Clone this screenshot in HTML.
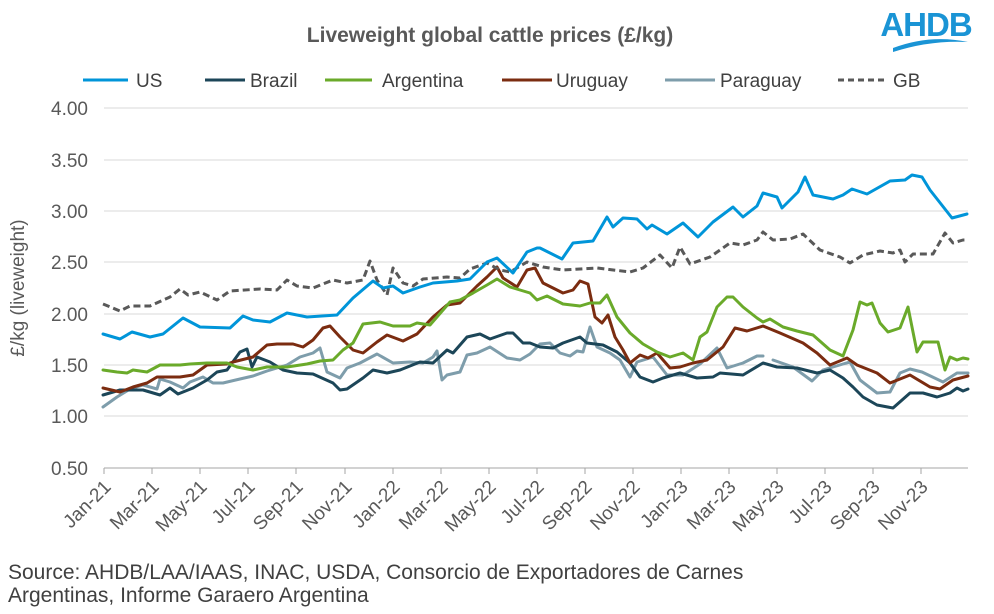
<!DOCTYPE html>
<html><head><meta charset="utf-8"><style>
body{margin:0;background:#fff;width:994px;height:609px;overflow:hidden;font-family:"Liberation Sans",Arial,sans-serif;}
</style></head><body>
<svg width="994" height="609" xmlns="http://www.w3.org/2000/svg" font-family="Liberation Sans, Arial, sans-serif">
<text x="490" y="42" text-anchor="middle" font-size="21" font-weight="bold" fill="#595959">Liveweight global cattle prices (£/kg)</text>
<g>
<text x="926" y="36" text-anchor="middle" font-size="33" font-weight="bold" fill="#1a94d5" letter-spacing="-1">AHDB</text>
<path d="M893 48 Q930 34 968 42 Q930 40 893 52 Z" fill="#1a94d5"/>
</g>
<g font-size="19" fill="#404040">
<line x1="83" y1="80" x2="128" y2="80" stroke="#0095d9" stroke-width="3"/><text x="136" y="87">US</text>
<line x1="205" y1="80" x2="245" y2="80" stroke="#1c4658" stroke-width="3"/><text x="250" y="87">Brazil</text>
<line x1="325" y1="80" x2="372" y2="80" stroke="#6aaa2a" stroke-width="3"/><text x="382" y="87">Argentina</text>
<line x1="502" y1="80" x2="552" y2="80" stroke="#7b2c10" stroke-width="3"/><text x="556" y="87">Uruguay</text>
<line x1="665" y1="80" x2="715" y2="80" stroke="#7e9dab" stroke-width="3"/><text x="720" y="87">Paraguay</text>
<line x1="838" y1="80" x2="885" y2="80" stroke="#595959" stroke-width="3" stroke-dasharray="6,4"/><text x="893" y="87">GB</text>
</g>
<g stroke="#d9d9d9" stroke-width="1">
<line x1="104" y1="108" x2="968" y2="108"/><line x1="104" y1="160" x2="968" y2="160"/><line x1="104" y1="211" x2="968" y2="211"/><line x1="104" y1="262" x2="968" y2="262"/><line x1="104" y1="314" x2="968" y2="314"/><line x1="104" y1="365" x2="968" y2="365"/><line x1="104" y1="416" x2="968" y2="416"/>
</g>
<line x1="104" y1="468" x2="968" y2="468" stroke="#a6a6a6" stroke-width="1"/>
<g stroke="#a6a6a6" stroke-width="1">
<line x1="104" y1="468" x2="104" y2="474"/><line x1="152" y1="468" x2="152" y2="474"/><line x1="200" y1="468" x2="200" y2="474"/><line x1="248" y1="468" x2="248" y2="474"/><line x1="296" y1="468" x2="296" y2="474"/><line x1="345" y1="468" x2="345" y2="474"/><line x1="393" y1="468" x2="393" y2="474"/><line x1="441" y1="468" x2="441" y2="474"/><line x1="489" y1="468" x2="489" y2="474"/><line x1="537" y1="468" x2="537" y2="474"/><line x1="585" y1="468" x2="585" y2="474"/><line x1="633" y1="468" x2="633" y2="474"/><line x1="681" y1="468" x2="681" y2="474"/><line x1="729" y1="468" x2="729" y2="474"/><line x1="777" y1="468" x2="777" y2="474"/><line x1="825" y1="468" x2="825" y2="474"/><line x1="873" y1="468" x2="873" y2="474"/><line x1="921" y1="468" x2="921" y2="474"/>
</g>
<g font-size="19" fill="#595959" text-anchor="end">
<text x="88" y="115">4.00</text><text x="88" y="167">3.50</text><text x="88" y="218">3.00</text><text x="88" y="269">2.50</text><text x="88" y="321">2.00</text><text x="88" y="372">1.50</text><text x="88" y="423">1.00</text><text x="88" y="475">0.50</text>
</g>
<text transform="translate(24,288) rotate(-90)" text-anchor="middle" font-size="19" fill="#595959">£/kg (liveweight)</text>
<g font-size="19" fill="#595959" text-anchor="end">
<text transform="translate(112,488) rotate(-45)">Jan-21</text>
<text transform="translate(160,488) rotate(-45)">Mar-21</text>
<text transform="translate(208,488) rotate(-45)">May-21</text>
<text transform="translate(256,488) rotate(-45)">Jul-21</text>
<text transform="translate(304,488) rotate(-45)">Sep-21</text>
<text transform="translate(353,488) rotate(-45)">Nov-21</text>
<text transform="translate(401,488) rotate(-45)">Jan-22</text>
<text transform="translate(449,488) rotate(-45)">Mar-22</text>
<text transform="translate(497,488) rotate(-45)">May-22</text>
<text transform="translate(545,488) rotate(-45)">Jul-22</text>
<text transform="translate(593,488) rotate(-45)">Sep-22</text>
<text transform="translate(641,488) rotate(-45)">Nov-22</text>
<text transform="translate(689,488) rotate(-45)">Jan-23</text>
<text transform="translate(737,488) rotate(-45)">Mar-23</text>
<text transform="translate(785,488) rotate(-45)">May-23</text>
<text transform="translate(833,488) rotate(-45)">Jul-23</text>
<text transform="translate(881,488) rotate(-45)">Sep-23</text>
<text transform="translate(929,488) rotate(-45)">Nov-23</text>
</g>
<g fill="none" stroke-width="3" stroke-linejoin="round" stroke-linecap="round">
<polyline stroke="#7e9dab" points="103,407 117,397 130,389 143,385 157,389 160,379 170,382 183,388 190,382 203,377 213,383 223,383 240,379 253,376 267,371 287,365 300,357 313,353 320,348 327,372 340,378 347,368 360,363 377,354 393,363 410,362 423,363 433,357 437,351 442,380 447,375 460,372 467,355 477,353 490,347 507,358 520,360 530,354 540,344 550,343 560,353 570,356 577,351 583,352 590,327 597,347 610,353 620,360 630,377 637,362 653,357 667,375 683,375 700,364 717,348 727,368 743,363 757,356 763,356"/>
<polyline stroke="#7e9dab" points="773,360 793,367 812,381 823,370 843,364 850,362 860,380 877,393 890,392 900,373 910,369 922,372 943,382 957,373 968,373"/>
<polyline stroke="#1c4658" points="103,395 120,390 143,390 160,395 170,388 178,394 193,388 207,380 217,372 227,370 240,352 247,349 252,367 257,357 270,362 283,370 297,373 313,374 333,383 340,390 347,389 363,378 373,370 387,373 400,370 420,362 433,363 447,350 453,353 467,337 480,334 490,339 507,333 513,333 523,343 530,343 540,347 553,348 563,343 580,337 587,343 603,345 617,352 630,363 640,377 653,382 663,378 680,373 697,378 713,377 720,373 743,375 763,363 777,367 797,368 817,373 830,370 843,378 853,387 863,397 877,405 893,408 910,393 923,393 937,397 950,393 957,388 963,391 968,389"/>
<polyline stroke="#7b2c10" points="103,388 120,392 133,387 147,383 157,377 180,377 193,375 207,365 227,364 233,362 253,357 267,345 277,344 293,344 303,347 313,340 323,328 330,326 340,337 353,350 363,353 377,342 387,335 403,341 417,334 433,317 447,305 460,303 477,286 487,277 497,267 503,278 517,287 527,270 535,268 543,283 563,293 573,290 580,281 588,284 595,317 602,323 608,315 615,337 623,350 630,363 640,355 648,358 657,353 670,368 680,367 693,363 707,360 723,347 735,328 747,331 763,326 780,333 803,343 817,353 830,365 847,358 857,365 877,373 890,383 910,375 930,387 940,389 953,380 968,376"/>
<polyline stroke="#6aaa2a" points="103,370 117,372 127,373 133,370 147,372 160,365 180,365 190,364 207,363 227,363 237,367 253,370 267,367 287,367 307,364 320,361 333,360 343,350 353,343 363,324 380,322 393,326 410,326 417,323 430,325 450,302 460,300 473,293 487,285 497,279 510,287 530,293 537,300 547,296 563,304 580,306 590,303 600,303 607,295 617,317 630,333 643,344 657,352 670,357 683,353 693,360 700,337 707,332 717,307 727,297 733,297 743,307 757,318 763,322 770,319 783,327 797,331 813,335 830,350 843,356 853,330 860,302 867,305 872,303 880,323 888,332 900,328 908,307 917,352 923,342 938,342 945,370 950,357 957,360 963,358 968,359"/>
<polyline stroke="#595959" stroke-dasharray="7,4" stroke-linecap="butt" points="103,304 120,311 130,306 150,306 170,297 180,289 188,295 200,292 217,300 230,291 260,289 277,290 287,280 297,286 313,288 333,280 347,283 363,280 370,261 377,280 387,295 393,268 403,283 413,286 423,279 447,277 460,278 470,269 487,263 500,270 510,272 527,262 530,263 543,267 563,270 597,268 630,272 643,268 660,255 672,268 680,247 690,264 710,257 730,243 743,245 757,240 763,232 773,240 790,239 803,234 820,250 840,257 850,263 863,255 880,251 893,253 900,250 905,262 913,254 933,254 945,233 953,243 963,240 968,240"/>
<polyline stroke="#0095d9" points="103,334 120,339 132,332 150,337 163,334 183,318 200,327 230,328 243,316 253,320 270,322 287,313 307,317 337,315 353,298 373,281 383,288 393,286 403,293 420,287 433,283 457,281 470,279 487,262 497,258 513,273 527,252 537,248 540,248 562,259 573,243 593,241 607,217 613,227 623,218 637,219 647,229 652,225 667,234 683,223 698,237 713,222 733,207 743,217 757,206 763,193 777,197 782,208 798,192 805,177 813,195 823,197 833,199 843,195 852,189 867,194 890,181 905,180 912,175 922,177 930,190 952,218 967,214"/>
</g>
<g font-size="21" fill="#404040">
<text x="8" y="579">Source: AHDB/LAA/IAAS, INAC, USDA, Consorcio de Exportadores de Carnes</text>
<text x="8" y="602">Argentinas, Informe Garaero Argentina</text>
</g>
</svg>
</body></html>
